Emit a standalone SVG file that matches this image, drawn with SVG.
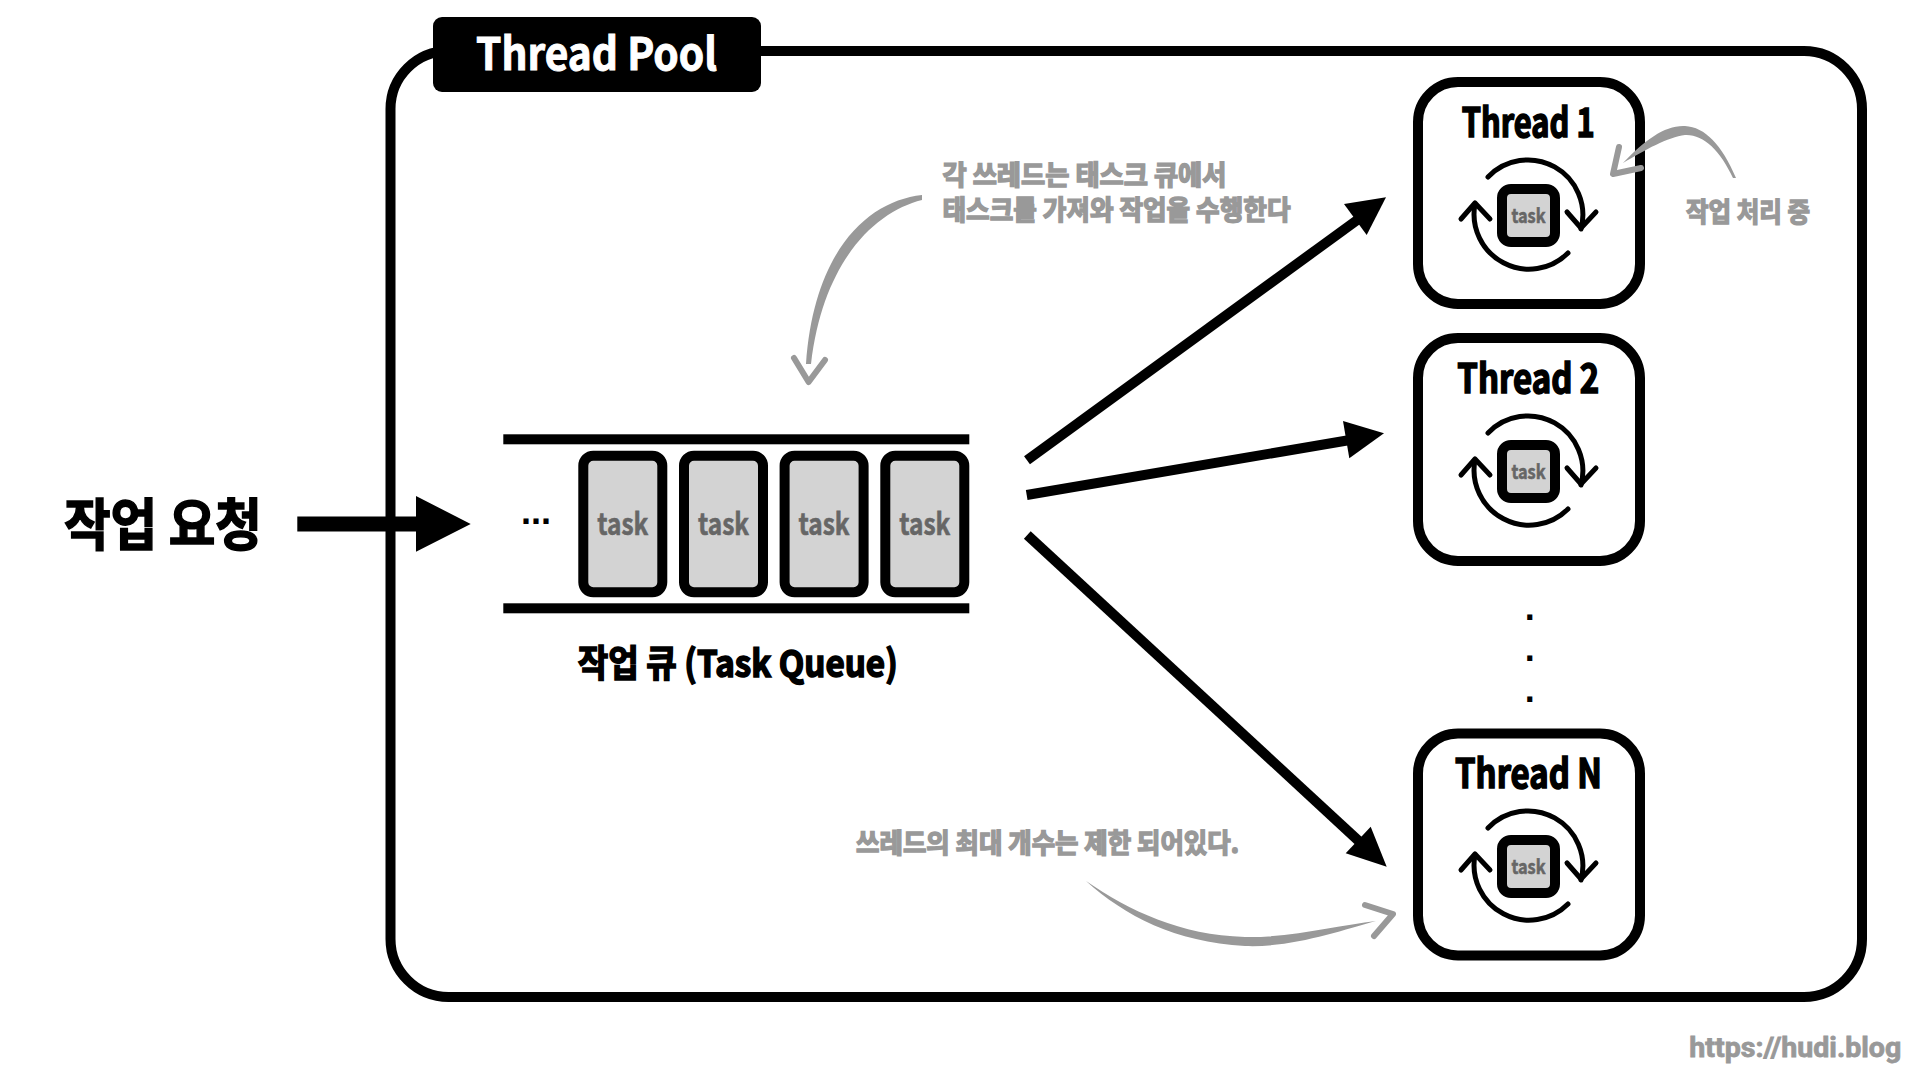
<svg xmlns="http://www.w3.org/2000/svg" width="1920" height="1080" viewBox="0 0 1920 1080">
<style>
text{font-family:"Noto Sans CJK KR","Noto Sans",sans-serif;font-weight:700}
.h{fill:#000;stroke:#000;stroke-width:1.6}
.g{fill:#999;stroke:#999;stroke-width:1.5}
.t{fill:#666;stroke:#666;stroke-width:.6}
.tb{fill:#d3d3d3;stroke:#000;stroke-width:10}
.line{fill:none;stroke:#000;stroke-width:10}
.brush{fill:#999;stroke:none}
.bh{fill:none;stroke:#999;stroke-width:6;stroke-linecap:round;stroke-linejoin:round}
.ic{fill:none;stroke:#000;stroke-width:5;stroke-linecap:round;stroke-linejoin:round}
.dot{font-family:"Liberation Sans",sans-serif;font-size:36px;fill:#000}
</style>
<defs>
<g id="icon">
<path class="ic" d="M1488,177A55,55 0 0 1 1581,229"/>
<path class="ic" d="M1568,253A55,55 0 0 1 1475,204"/>
<path class="ic" d="M1567,212L1581,228L1596,212"/>
<path class="ic" d="M1461,219L1475,203L1490,219"/>
<rect class="tb" x="1502" y="189" width="53" height="53" rx="9"/>
<text class="t" x="1511.5" y="223" font-size="20" textLength="34" lengthAdjust="spacingAndGlyphs">task</text>
</g>
</defs>
<rect width="1920" height="1080" fill="#fff"/>
<g id="thread-pool">
<rect x="390.5" y="51" width="1471.5" height="946" rx="58" fill="none" stroke="#000" stroke-width="10"/>
<rect x="433" y="17" width="328" height="75" rx="9" fill="#000"/>
<text x="476" y="70" font-size="45" fill="#fff" stroke="#fff" stroke-width="1" textLength="241" lengthAdjust="spacingAndGlyphs">Thread Pool</text>
</g>
<g id="request">
<text class="h" x="64" y="545" font-size="56" textLength="198" lengthAdjust="spacingAndGlyphs">작업 요청</text>
</g>
<g id="queue">
<rect x="503.3" y="434.3" width="466" height="10" fill="#000"/>
<rect x="503.3" y="603.3" width="466" height="10" fill="#000"/>
<text class="dot" x="521" y="524">...</text>
<rect class="tb" x="583.3" y="455.7" width="79" height="136.6" rx="10"/>
<rect class="tb" x="684" y="455.7" width="79" height="136.6" rx="10"/>
<rect class="tb" x="784.6" y="455.7" width="79" height="136.6" rx="10"/>
<rect class="tb" x="885.3" y="455.7" width="79" height="136.6" rx="10"/>
<text class="t" x="597.3" y="535" font-size="30" textLength="51" lengthAdjust="spacingAndGlyphs">task</text>
<text class="t" x="698" y="535" font-size="30" textLength="51" lengthAdjust="spacingAndGlyphs">task</text>
<text class="t" x="798.6" y="535" font-size="30" textLength="51" lengthAdjust="spacingAndGlyphs">task</text>
<text class="t" x="899.3" y="535" font-size="30" textLength="51" lengthAdjust="spacingAndGlyphs">task</text>
<text class="h" x="577.7" y="676.5" font-size="37" textLength="320" lengthAdjust="spacingAndGlyphs">작업 큐 (Task Queue)</text>
</g>
<g id="thread-1">
<rect x="1418" y="82" width="222" height="222" rx="40" fill="#fff" stroke="#000" stroke-width="10"/>
<text class="h" x="1461.7" y="137.2" font-size="40" textLength="133" lengthAdjust="spacingAndGlyphs">Thread 1</text>
<use href="#icon"/>
</g>
<g id="thread-2">
<rect x="1418" y="338" width="222" height="223" rx="40" fill="#fff" stroke="#000" stroke-width="10"/>
<text class="h" x="1457.3" y="393.2" font-size="40" textLength="142" lengthAdjust="spacingAndGlyphs">Thread 2</text>
<use href="#icon" y="256"/>
</g>
<g id="thread-ellipsis">
<text class="dot" x="1524.7" y="619.5">.</text>
<text class="dot" x="1524.7" y="660.5">.</text>
<text class="dot" x="1524.7" y="701.5">.</text>
</g>
<g id="thread-n">
<rect x="1418" y="733.5" width="222" height="222" rx="40" fill="#fff" stroke="#000" stroke-width="10"/>
<text class="h" x="1455" y="788.2" font-size="40" textLength="147" lengthAdjust="spacingAndGlyphs">Thread N</text>
<use href="#icon" y="651"/>
</g>
<g id="connectors">
<path d="M297.3,516.5H416V496L470.7,524L416,551.7V531.5H297.3Z" fill="#000"/>
<path class="line" d="M1027,460.3L1360,218"/>
<path d="M1386,197.3L1366.7,235L1344,204Z" fill="#000"/>
<path class="line" d="M1026.7,495L1350,440"/>
<path d="M1384,433.3L1343,421L1349.3,458.3Z" fill="#000"/>
<path class="line" d="M1027.3,535L1362,844"/>
<path d="M1386.7,866.7L1370.7,826.7L1345.7,853.3Z" fill="#000"/>
</g>
<g id="annotations">
<text class="g" x="942.5" y="184.5" font-size="27" textLength="284" lengthAdjust="spacingAndGlyphs">각 쓰레드는 태스크 큐에서</text>
<text class="g" x="942.5" y="220" font-size="27" textLength="348" lengthAdjust="spacingAndGlyphs">태스크를 가져와 작업을 수행한다</text>
<text class="g" x="1686" y="222" font-size="27" textLength="124" lengthAdjust="spacingAndGlyphs">작업 처리 중</text>
<text class="g" x="856" y="853" font-size="27" textLength="383" lengthAdjust="spacingAndGlyphs">쓰레드의 최대 개수는 제한 되어있다.</text>
<path class="brush" d="M922,195C868,201 814,250 806,364L811,364C823,262 874,212 922,200Z"/>
<path class="bh" d="M794,358L808.6,382L825,360"/>
<path class="brush" d="M1736,178C1722,145 1705,127 1685,126C1665,125 1645,140 1623,163C1645,150 1668,137 1685,135C1703,134 1720,150 1733,178Z"/>
<path class="bh" d="M1619,147L1613,174L1641,168"/>
<path class="brush" d="M1086,881C1125,916 1175,942 1245,946C1290,948 1340,931 1376,921C1340,925 1290,938 1245,937C1180,935 1130,911 1086,881Z"/>
<path class="bh" d="M1365,905L1393,914L1374,936"/>
</g>
<g id="credit">
<text x="1689.3" y="1057" font-size="28" fill="#999" stroke="#999" stroke-width=".8" style="font-family:Roboto,sans-serif" textLength="212" lengthAdjust="spacingAndGlyphs">https://hudi.blog</text>
</g>
</svg>
